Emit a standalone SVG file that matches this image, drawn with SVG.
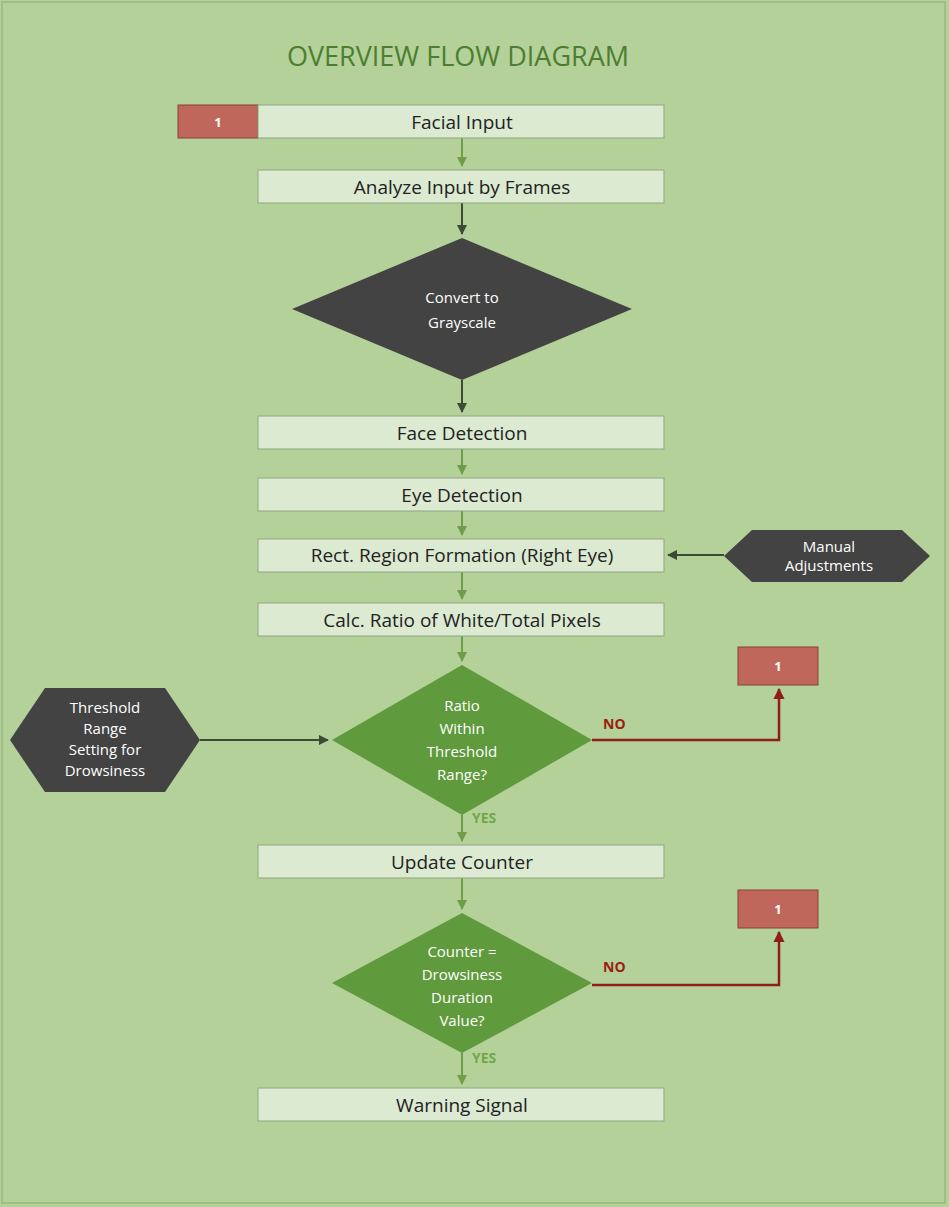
<svg xmlns="http://www.w3.org/2000/svg" width="949" height="1207" viewBox="0 0 949 1207">
<defs>
<style>
.box{fill:#dcead2;stroke:#8fa584;stroke-width:1}
.bt{font-family:"Open Sans","Liberation Sans",sans-serif;font-size:19px;fill:#222;text-anchor:middle}
.red{fill:#c0675c;stroke:#8a3f36;stroke-width:1}
.rt{font-family:"Open Sans","Liberation Sans",sans-serif;font-size:13px;font-weight:bold;fill:#fff;text-anchor:middle}
.dk{fill:#434343}
.wt{font-family:"Open Sans","Liberation Sans",sans-serif;font-size:15px;fill:#fff;text-anchor:middle}
.gd{fill:#5f9a3c}
.g{stroke:#6f9e48;stroke-width:2;fill:none}
.d{stroke:#3d4a35;stroke-width:2;fill:none}
.r{stroke:#8f1f14;stroke-width:2.5;fill:none}
.lbl{font-family:"Open Sans","Liberation Sans",sans-serif;font-size:14px;font-weight:bold}
</style>
<marker id="ag" viewBox="0 0 10 10" refX="9" refY="5" markerWidth="5" markerHeight="5" orient="auto"><path d="M0 0L10 5L0 10z" fill="#6f9e48"/></marker>
<marker id="ad" viewBox="0 0 10 10" refX="9" refY="5" markerWidth="5" markerHeight="5" orient="auto"><path d="M0 0L10 5L0 10z" fill="#3d4a35"/></marker>
<marker id="ar" viewBox="0 0 10 10" refX="9" refY="5" markerWidth="4.5" markerHeight="4.5" orient="auto"><path d="M0 0L10 5L0 10z" fill="#8f1f14"/></marker>
</defs>
<rect width="949" height="1207" fill="#b4d19a"/>
<rect x="2" y="2" width="943" height="1201" fill="none" stroke="#9fbf86" stroke-width="2"/>
<text x="458" y="66" font-family="Open Sans,Liberation Sans,sans-serif" font-size="27" fill="#4d7e2f" text-anchor="middle">OVERVIEW FLOW DIAGRAM</text>

<g id="connectors">
<path class="g" d="M462 138V166" marker-end="url(#ag)"/>
<path class="d" d="M462 203V234" marker-end="url(#ad)"/>
<path class="d" d="M462 380V412" marker-end="url(#ad)"/>
<path class="g" d="M462 449V474" marker-end="url(#ag)"/>
<path class="g" d="M462 511V535" marker-end="url(#ag)"/>
<path class="g" d="M462 572V599" marker-end="url(#ag)"/>
<path class="g" d="M462 636V661" marker-end="url(#ag)"/>
<path class="g" d="M462 815V841" marker-end="url(#ag)"/>
<path class="g" d="M462 878V909" marker-end="url(#ag)"/>
<path class="g" d="M462 1053V1084" marker-end="url(#ag)"/>
<path class="d" d="M724 555H668" marker-end="url(#ad)"/>
<path class="d" d="M200 740H328" marker-end="url(#ad)"/>
<path class="r" d="M592 740H779V689" marker-end="url(#ar)"/>
<path class="r" d="M592 985H779V932" marker-end="url(#ar)"/>
<text class="lbl" x="603" y="729" fill="#9a1e12">NO</text>
<text class="lbl" x="603" y="972" fill="#9a1e12">NO</text>
<text class="lbl" x="472" y="823" fill="#74a64c">YES</text>
<text class="lbl" x="472" y="1063" fill="#74a64c">YES</text>
</g>

<g id="n1"><rect class="red" x="178" y="105" width="80" height="33"/><text class="rt" x="218" y="127">1</text></g>
<g id="facial"><rect class="box" x="258" y="105" width="406" height="33"/><text class="bt" x="462" y="129">Facial Input</text></g>
<g id="analyze"><rect class="box" x="258" y="170" width="406" height="33"/><text class="bt" x="462" y="194">Analyze Input by Frames</text></g>
<g id="gray"><polygon class="dk" points="462,238 632,309 462,380 292,309"/><text class="wt" x="462" y="303">Convert to</text><text class="wt" x="462" y="328">Grayscale</text></g>
<g id="face"><rect class="box" x="258" y="416" width="406" height="33"/><text class="bt" x="462" y="440">Face Detection</text></g>
<g id="eye"><rect class="box" x="258" y="478" width="406" height="33"/><text class="bt" x="462" y="502">Eye Detection</text></g>
<g id="rect"><rect class="box" x="258" y="539" width="406" height="33"/><text class="bt" x="462" y="562" font-size="16">Rect. Region Formation (Right Eye)</text></g>
<g id="manual"><polygon class="dk" points="724,556 752,530 902,530 930,556 902,582 752,582"/><text class="wt" x="829" y="552" font-size="14">Manual</text><text class="wt" x="829" y="571" font-size="14">Adjustments</text></g>
<g id="calc"><rect class="box" x="258" y="603" width="406" height="33"/><text class="bt" x="462" y="627">Calc. Ratio of White/Total Pixels</text></g>
<g id="ratio"><polygon class="gd" points="462,665 592,740 462,815 332,740"/><text class="wt" x="462" y="711">Ratio</text><text class="wt" x="462" y="734">Within</text><text class="wt" x="462" y="757">Threshold</text><text class="wt" x="462" y="780">Range?</text></g>
<g id="thresh"><polygon class="dk" points="10,740 45,688 165,688 200,740 165,792 45,792"/><text class="wt" x="105" y="713" font-size="14">Threshold</text><text class="wt" x="105" y="734" font-size="14">Range</text><text class="wt" x="105" y="755" font-size="14">Setting for</text><text class="wt" x="105" y="776" font-size="14">Drowsiness</text></g>
<g id="n1b"><rect class="red" x="738" y="647" width="80" height="38"/><text class="rt" x="778" y="671">1</text></g>
<g id="update"><rect class="box" x="258" y="845" width="406" height="33"/><text class="bt" x="462" y="869">Update Counter</text></g>
<g id="counter"><polygon class="gd" points="462,913 592,983 462,1053 332,983"/><text class="wt" x="462" y="957">Counter =</text><text class="wt" x="462" y="980">Drowsiness</text><text class="wt" x="462" y="1003">Duration</text><text class="wt" x="462" y="1026">Value?</text></g>
<g id="n1c"><rect class="red" x="738" y="890" width="80" height="38"/><text class="rt" x="778" y="914">1</text></g>
<g id="warn"><rect class="box" x="258" y="1088" width="406" height="33"/><text class="bt" x="462" y="1112">Warning Signal</text></g>
</svg>
